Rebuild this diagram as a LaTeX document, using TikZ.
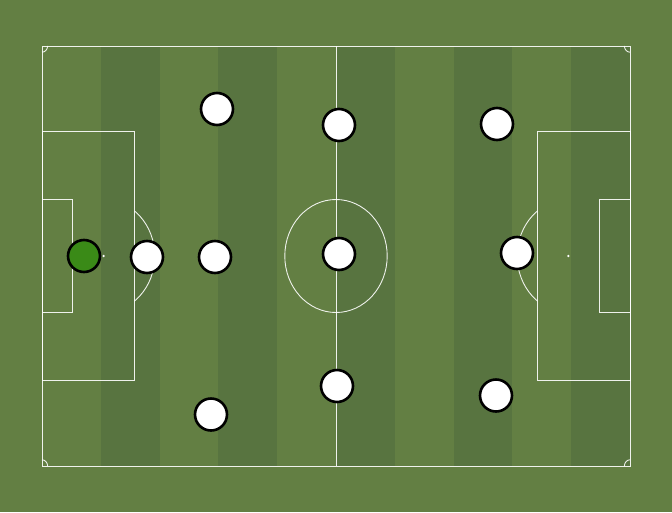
\documentclass[tikz,border=0pt]{standalone}
\definecolor{grassL}{RGB}{99,127,67}
\definecolor{grassD}{RGB}{88,116,64}
\definecolor{gkgreen}{RGB}{58,138,23}
\tikzset{
  pitchline/.style={draw=white, draw opacity=0.9, line width=0.9pt},
  player/.style={circle, draw=black, line width=2.6pt, fill=white, minimum size=32pt, inner sep=0pt},
  keeper/.style={player, fill=gkgreen},
  spot/.style={circle, fill=white, inner sep=0pt, minimum size=2.6pt}
}
\begin{document}
\begin{tikzpicture}[x=1pt,y=-1pt]
\useasboundingbox (0,0) rectangle (672,512);
\fill[grassL] (0,0) rectangle (672,512);
% stripes
\foreach \i in {1,3,5,7,9} {
  \fill[grassD] ({42+58.8*\i},46) rectangle ({42+58.8*(\i+1)},466);
}
% outline and halfway line
\draw[pitchline] (42,46) rectangle (630,466);
\draw[pitchline] (336,46) -- (336,466);
% center circle (ellipse due to scaling)
\draw[pitchline] (336,256) ellipse [x radius=51.2, y radius=56.5];
% left penalty box and goal area
\draw[pitchline] (42,131) rectangle (134.4,380.5);
\draw[pitchline] (42,199.5) rectangle (72.8,312.5);
\begin{scope}
  \clip (134.4,0) rectangle (300,512);
  \draw[pitchline] (103.6,256) ellipse [x radius=51.2, y radius=56.5];
\end{scope}
% right penalty box and goal area
\draw[pitchline] (537.6,131) rectangle (630,380.5);
\draw[pitchline] (599.2,199.5) rectangle (630,312.5);
\begin{scope}
  \clip (400,0) rectangle (537.6,512);
  \draw[pitchline] (568.4,256) ellipse [x radius=51.2, y radius=56.5];
\end{scope}
% corner arcs
\draw[pitchline] (47.6,46) arc[start angle=0, end angle=90, x radius=5.6, y radius=6.2];
\draw[pitchline] (624.4,46) arc[start angle=180, end angle=90, x radius=5.6, y radius=6.2];
\draw[pitchline] (47.6,466) arc[start angle=0, end angle=-90, x radius=5.6, y radius=6.2];
\draw[pitchline] (624.4,466) arc[start angle=180, end angle=270, x radius=5.6, y radius=6.2];
% spots
\node[spot] (ls) at (103.6,256) {};
\node[spot] (rs) at (568.4,256) {};
% players
\node[keeper] (gk) at (84,256) {};
\node[player] (p1) at (147,257) {};
\node[player] (p2) at (215,257) {};
\node[player] (p3) at (217,109) {};
\node[player] (p4) at (211,414.5) {};
\node[player] (p5) at (339,125) {};
\node[player] (p6) at (339,254) {};
\node[player] (p7) at (337,386) {};
\node[player] (p8) at (497,124) {};
\node[player] (p9) at (517,253) {};
\node[player] (p10) at (496,395.5) {};
\end{tikzpicture}
\end{document}
